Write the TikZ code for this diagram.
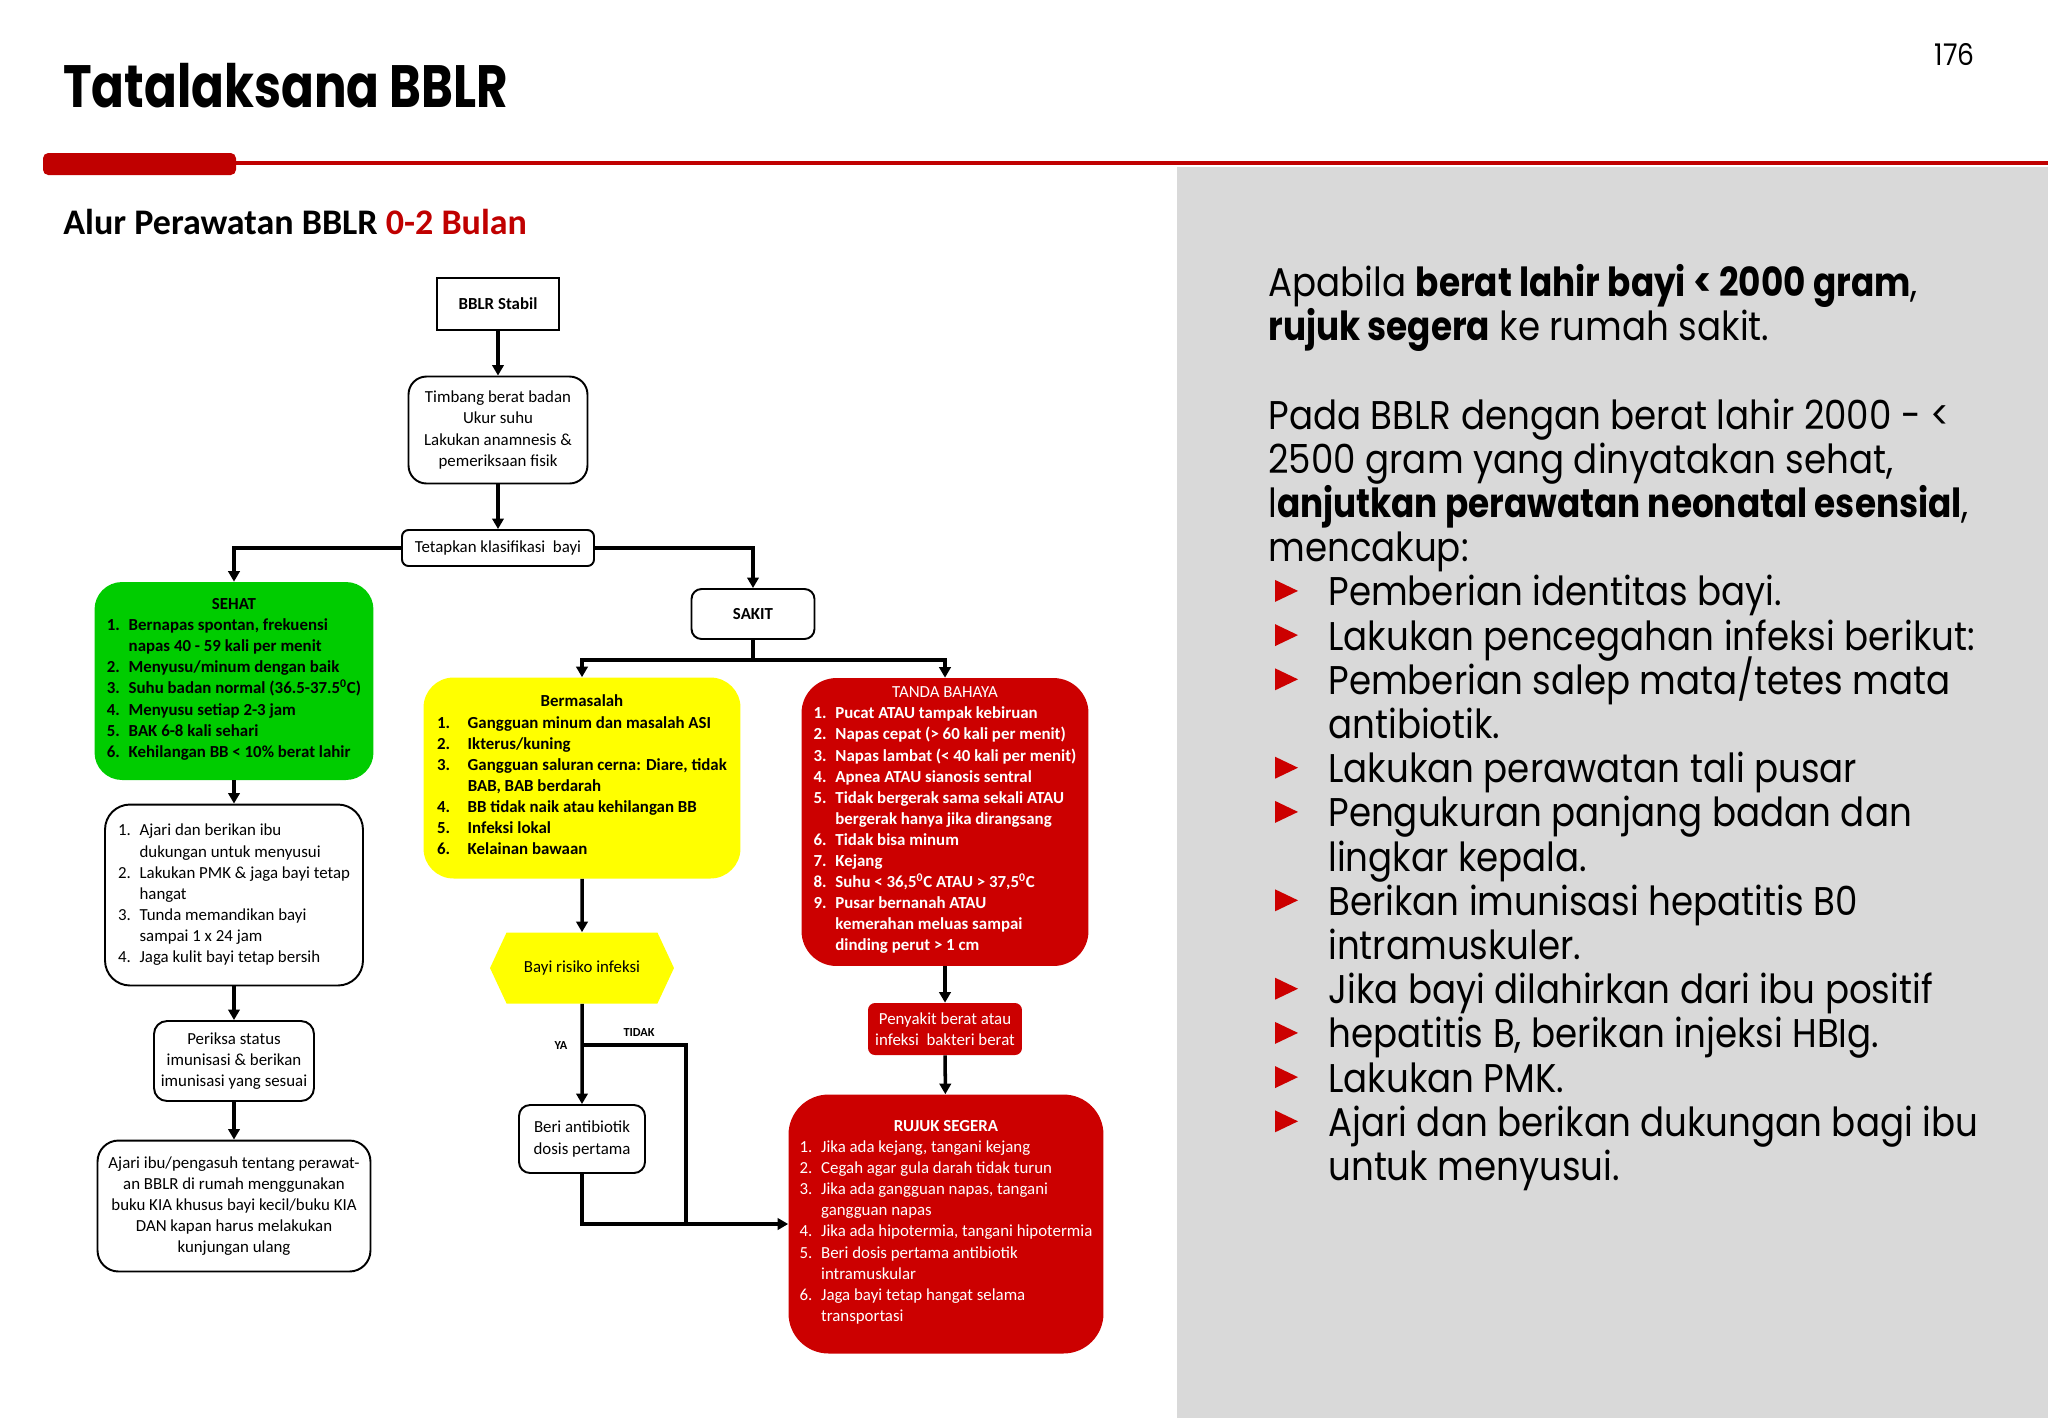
\documentclass[tikz,border=0pt]{standalone}
\usepackage{fontspec}
\setmainfont{Carlito}
\newfontfamily\titlefont[FakeStretch=0.81]{Poppins}
\newfontfamily\sidefont[FakeStretch=0.89, BoldFeatures={FakeStretch=0.855}]{Poppins}
\usetikzlibrary{arrows.meta,shapes.symbols}
\definecolor{slidered}{RGB}{192,0,0}
\definecolor{boxgreen}{RGB}{0,204,0}
\definecolor{boxyellow}{RGB}{255,255,0}
\definecolor{boxred}{RGB}{204,0,0}
\definecolor{panelgray}{RGB}{217,217,217}

\begin{document}
\begin{tikzpicture}[x=0.02cm, y=-0.02cm,
  txt/.style={font=\fontsize{9.6pt}{12pt}\selectfont, align=center, inner sep=0pt},
  txtb/.style={font=\fontsize{9.6pt}{12pt}\selectfont\bfseries, align=center, inner sep=0pt},
  outline/.style={rectangle, draw, line width=1.1pt},
  block/.style={outline, rounded corners=0.3cm},
  filled/.style={rectangle, rounded corners=0.55cm},
  arr/.style={-{Triangle[length=6pt,width=6.5pt]}, line width=2pt},
  link/.style={line width=2pt},
  side/.style={font=\sidefont\fontsize{22.8pt}{25pt}\selectfont, anchor=base west, inner sep=0pt}
]
  \useasboundingbox (0,0) rectangle (2048,1418);
  \fill[white] (0,0) rectangle (2048,1418);

  % slide frame
  \fill[panelgray] (1177,167) rectangle (2048,1418);
  \fill[slidered] (230,161) rectangle (2048,165);
  \fill[slidered, rounded corners=3pt] (43,153) rectangle (236,175);
  \node[font=\titlefont\bfseries\fontsize{34pt}{34pt}\selectfont, anchor=base west, inner sep=0pt] (title) at (63,107) {Tatalaksana BBLR};
  \node[font=\sidefont\fontsize{17pt}{17pt}\selectfont, anchor=base east, inner sep=0pt] (page) at (1975,65) {176};
  \node[font=\bfseries\fontsize{20.5pt}{20.5pt}\selectfont, anchor=base west, inner sep=0pt] (subtitle) at (63,234) {Alur Perawatan BBLR \textcolor{slidered}{0-2 Bulan}};

  % flowchart
  \node[txtb, outline, minimum width=2.44cm, minimum height=1.04cm] (stabil) at (498,304) {BBLR Stabil};
  \node[txt, block, rounded corners=0.36cm, minimum width=3.58cm, minimum height=2.14cm] (timbang) at (498,430) {Timbang berat badan\\Ukur suhu\\Lakukan anamnesis \&\\pemeriksaan fisik};
  \node[txt, block, rounded corners=0.13cm, minimum width=3.84cm, minimum height=0.72cm] (tetapkan) at (498,548) {Tetapkan klasifikasi\ \ bayi};

  \node[txtb, filled, fill=boxgreen, minimum width=5.58cm, minimum height=3.96cm] (sehat) at (234,681) {SEHAT\\
    \begin{tabular}[t]{@{}l@{\hspace{5pt}}l@{}}
    1.&Bernapas spontan, frekuensi\\
    &napas 40 - 59 kali per menit\\
    2.&Menyusu/minum dengan baik\\
    3.&Suhu badan normal (36.5-37.5\textsuperscript{0}C)\\
    4.&Menyusu setiap 2-3 jam\\
    5.&BAK 6-8 kali sehari\\
    6.&Kehilangan BB < 10\% berat lahir
    \end{tabular}};
  \node[txt, block, rounded corners=0.5cm, minimum width=5.16cm, minimum height=3.62cm] (ajari) at (234,895) {%
    \begin{tabular}{@{}l@{\hspace{5pt}}l@{}}
    1.&Ajari dan berikan ibu\\
    &dukungan untuk menyusui\\
    2.&Lakukan PMK \& jaga bayi tetap\\
    &hangat\\
    3.&Tunda memandikan bayi\\
    &sampai 1 x 24 jam\\
    4.&Jaga kulit bayi tetap bersih
    \end{tabular}};
  \node[txt, block, rounded corners=0.26cm, minimum width=3.2cm, minimum height=1.6cm] (periksa) at (234,1061) {Periksa status\\imunisasi \& berikan\\imunisasi yang sesuai};
  \node[txt, block, rounded corners=0.42cm, minimum width=5.46cm, minimum height=2.62cm] (edukasi) at (234,1206) {Ajari ibu/pengasuh tentang perawat-\\an BBLR di rumah menggunakan\\buku KIA khusus bayi kecil/buku\ KIA\\DAN kapan harus melakukan\\kunjungan ulang};

  \node[txtb, block, rounded corners=0.2cm, minimum width=2.46cm, minimum height=1cm] (sakit) at (753,614) {SAKIT};
  \node[txtb, filled, rounded corners=0.6cm, fill=boxyellow, minimum width=6.34cm, minimum height=4.02cm] (masalah) at (582,778) {Bermasalah\\
    \begin{tabular}[t]{@{}l@{\hspace{10pt}}l@{}}
    1.&Gangguan minum dan masalah ASI\\
    2.&Ikterus/kuning\\
    3.&Gangguan saluran cerna: Diare, tidak\\
    &BAB, BAB berdarah\\
    4.&BB tidak naik atau kehilangan BB\\
    5.&Infeksi lokal\\
    6.&Kelainan bawaan
    \end{tabular}};
  \node[txtb, filled, rounded corners=0.7cm, fill=boxred, text=white, minimum width=5.74cm, minimum height=5.76cm] (bahaya) at (945,822) {{\mdseries TANDA BAHAYA}\\
    \begin{tabular}[t]{@{}l@{\hspace{5pt}}l@{}}
    1.&Pucat ATAU tampak kebiruan\\
    2.&Napas cepat (> 60 kali per menit)\\
    3.&Napas lambat (< 40 kali per menit)\\
    4.&Apnea ATAU sianosis sentral\\
    5.&Tidak bergerak sama sekali ATAU\\
    &bergerak hanya jika dirangsang\\
    6.&Tidak bisa minum\\
    7.&Kejang\\
    8.&Suhu < 36,5\textsuperscript{0}C ATAU > 37,5\textsuperscript{0}C\\
    9.&Pusar bernanah ATAU\\
    &kemerahan meluas sampai\\
    &dinding perut > 1 cm
    \end{tabular}};
  \node[txt, signal, signal to=west and east, signal pointer angle=130, fill=boxyellow, minimum width=3.68cm, minimum height=1.42cm] (risiko) at (582,968) {Bayi risiko infeksi};
  \node[txt, block, rounded corners=0.22cm, minimum width=2.52cm, minimum height=1.36cm] (antibiotik) at (582,1139) {Beri antibiotik\\dosis pertama};
  \node[txt, filled, rounded corners=0.14cm, fill=boxred, text=white, minimum width=3.08cm, minimum height=1.04cm] (penyakit) at (945,1029) {Penyakit berat atau\\infeksi\ \ bakteri berat};
  \node[txt, filled, rounded corners=0.8cm, fill=boxred, text=white, minimum width=6.3cm, minimum height=5.18cm] (rujuk) at (946,1224) {\textbf{RUJUK SEGERA}\\
    \begin{tabular}[t]{@{}l@{\hspace{5pt}}l@{}}
    1.&Jika ada kejang, tangani kejang\\
    2.&Cegah agar gula darah tidak turun\\
    3.&Jika ada gangguan napas, tangani\\
    &gangguan napas\\
    4.&Jika ada hipotermia, tangani hipotermia\\
    5.&Beri dosis pertama antibiotik\\
    &intramuskular\\
    6.&Jaga bayi tetap hangat selama\\
    &transportasi
    \end{tabular}};
  \node[font=\fontsize{7pt}{8pt}\selectfont\bfseries, inner sep=0pt] (ya) at (561,1045) {YA};
  \node[font=\fontsize{7pt}{8pt}\selectfont\bfseries, inner sep=0pt] (tidak) at (639,1032) {TIDAK};

  \coordinate (fork) at (753,660);
  \coordinate (split) at (582,1045);
  \coordinate (join) at (686,1224);

  \draw[arr] (stabil) -- (timbang);
  \draw[arr] (timbang) -- (tetapkan);
  \draw[arr] (tetapkan.west) -| (sehat.north);
  \draw[arr] (tetapkan.east) -| (sakit.north);
  \draw[arr] (sehat) -- (ajari);
  \draw[arr] (ajari) -- (periksa);
  \draw[arr] (periksa) -- (edukasi);
  \draw[link] (sakit) -- (fork);
  \draw[arr] (fork) -| (masalah.north);
  \draw[arr] (fork) -| (bahaya.north);
  \draw[arr] (masalah) -- (risiko);
  \draw[arr] (risiko) -- (antibiotik);
  \draw[link] (split) -| (join);
  \draw[arr] (antibiotik.south) |- (rujuk.west);
  \draw[arr] (bahaya) -- (penyakit);
  \draw[arr] (penyakit) -- (rujuk);

  % right panel
  \foreach \n/\t in {0/{Apabila \textbf{berat lahir bayi < 2000 gram},},
      1/{\textbf{rujuk segera} ke rumah sakit.},
      3/{Pada BBLR dengan berat lahir 2000 - <},
      4/{2500 gram yang dinyatakan sehat,},
      5/{l\textbf{anjutkan perawatan neonatal esensial},},
      6/{mencakup:}}
    \node[side] (side\n) at (1268,{296.5+44.2*\n}) {\t};
  \foreach \n/\b/\t in {7/1/{Pemberian identitas bayi.},
      8/1/{Lakukan pencegahan infeksi berikut:},
      9/1/{Pemberian salep mata/tetes mata},
      10/0/{antibiotik.},
      11/1/{Lakukan perawatan tali pusar},
      12/1/{Pengukuran panjang badan dan},
      13/0/{lingkar kepala.},
      14/1/{Berikan imunisasi hepatitis B0},
      15/0/{intramuskuler.},
      16/1/{Jika bayi dilahirkan dari ibu positif},
      17/1/{hepatitis B, berikan injeksi HBIg.},
      18/1/{Lakukan PMK.},
      19/1/{Ajari dan berikan dukungan bagi ibu},
      20/0/{untuk menyusui.}} {
    \node[side] (side\n) at (1328,{296.5+44.2*\n}) {\t};
    \ifnum\b=1
      \fill[boxred] (1275,{270.5+44.2*\n}) -- (1298,{281.5+44.2*\n}) -- (1275,{292.5+44.2*\n}) -- cycle;
    \fi
  }
\end{tikzpicture}
\end{document}
